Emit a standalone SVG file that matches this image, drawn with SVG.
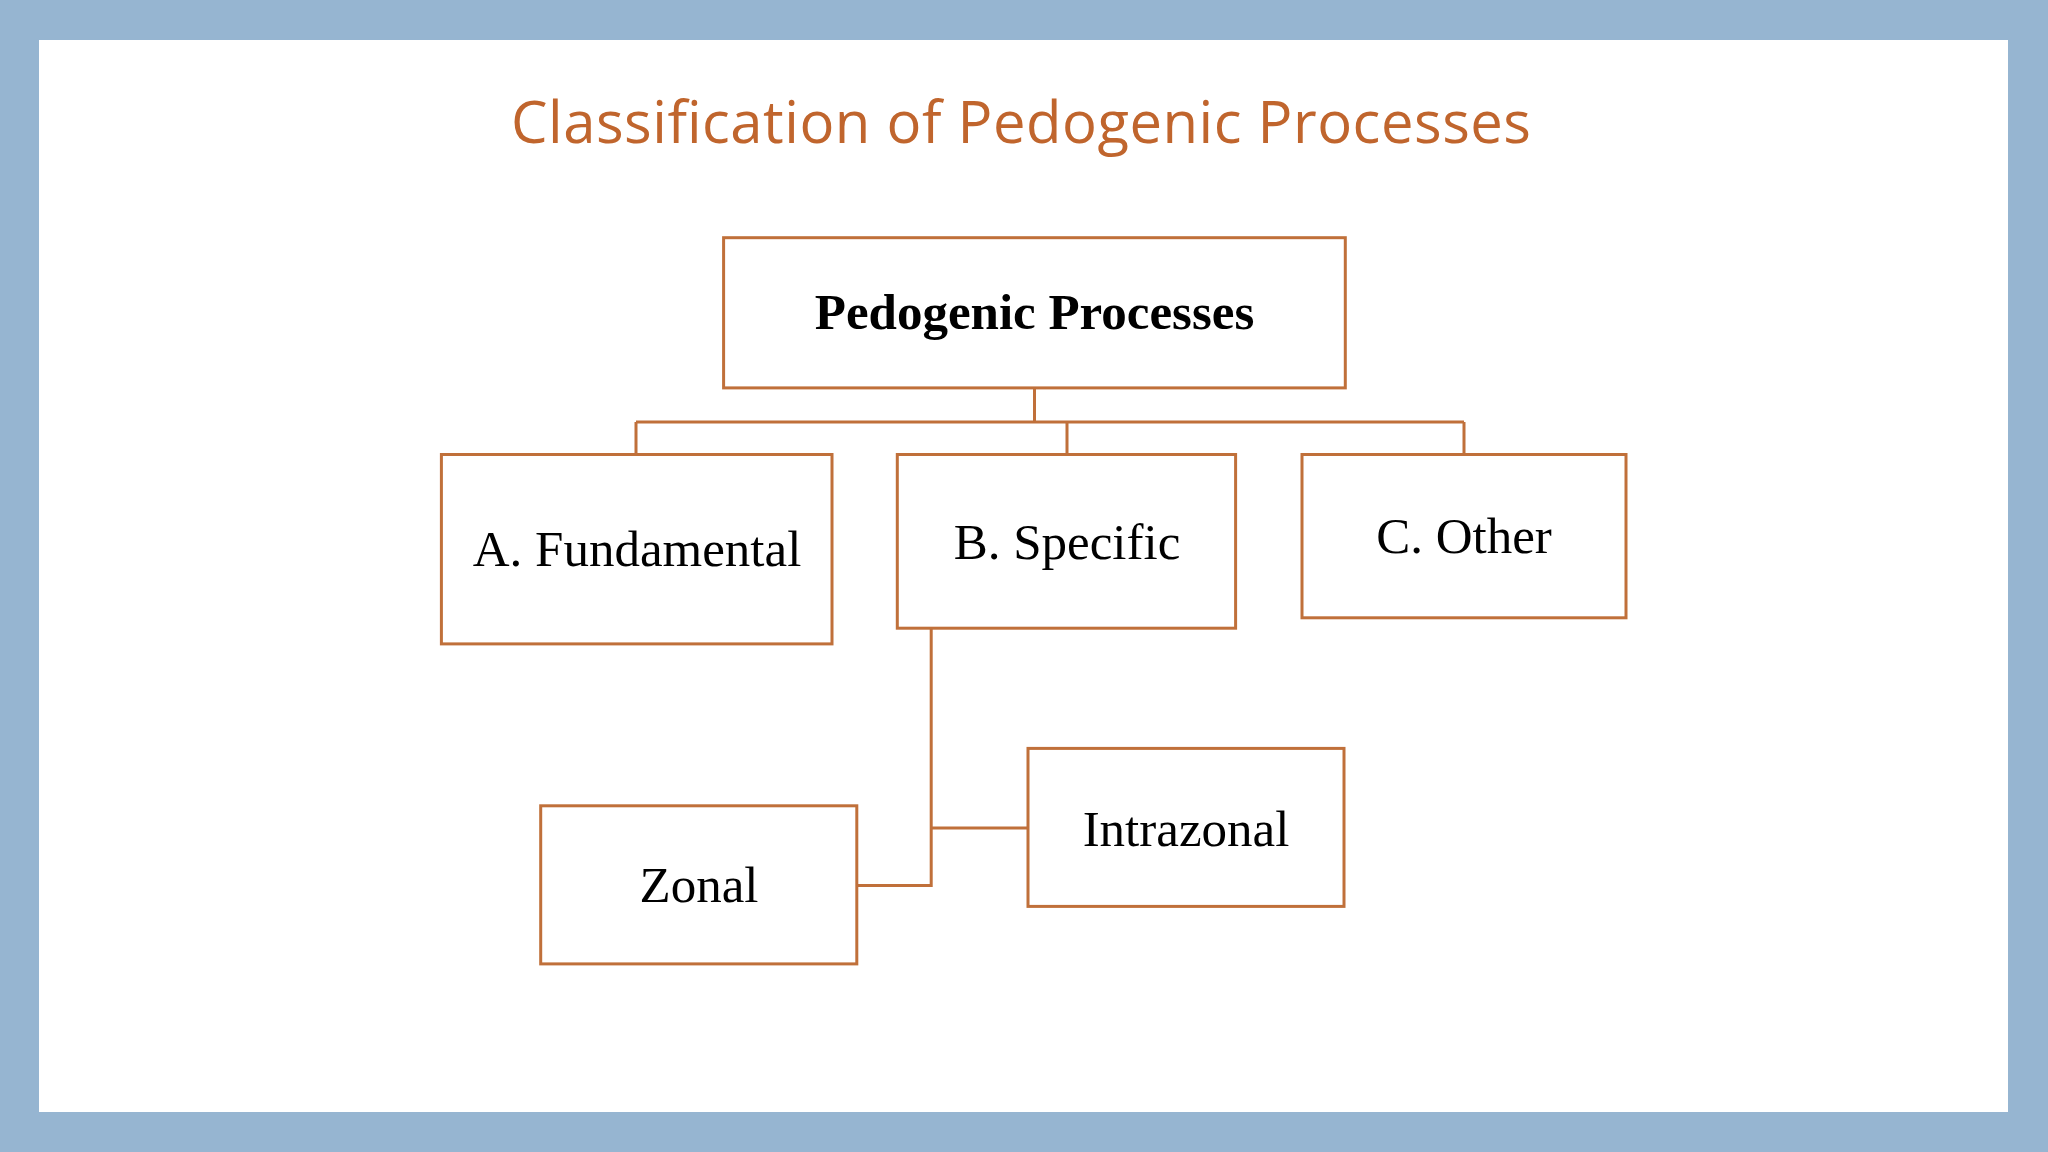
<svg xmlns="http://www.w3.org/2000/svg" width="2048" height="1152" viewBox="0 0 2048 1152">
<style>
.box{fill:#fff;stroke:#C0703A;stroke-width:3}
.lbl{font-family:"Liberation Serif",serif;font-size:51px;fill:#000;text-anchor:middle}
.con{fill:none;stroke:#C0703A;stroke-width:3}
</style>
<rect width="2048" height="1152" fill="#96B5D1"/>
<rect x="39" y="40" width="1969" height="1072" fill="#fff"/>
<text x="1021" y="143" font-family="'Open Sans',sans-serif" font-size="58" fill="#C0652D" text-anchor="middle" textLength="1020">Classification of Pedogenic Processes</text>
<g id="connectors">
<path class="con" d="M1034.5 388V422M636 422H1464M636 422V454.5M1067 422V454.5M1464 422V454.5"/>
<path class="con" d="M931.2 628.2V885.5H856.8M931.2 828H1028"/>
</g>
<g id="root"><rect class="box" x="723.6" y="237.7" width="621.7" height="150.2"/><text class="lbl" x="1034.5" y="329" font-weight="bold">Pedogenic Processes</text></g>
<g id="a"><rect class="box" x="441.4" y="454.5" width="390.6" height="189.4"/><text class="lbl" x="637" y="566">A. Fundamental</text></g>
<g id="b"><rect class="box" x="897.3" y="454.5" width="338.3" height="173.7"/><text class="lbl" x="1067" y="559">B. Specific</text></g>
<g id="c"><rect class="box" x="1302" y="454.5" width="324" height="163.3"/><text class="lbl" x="1464" y="553">C. Other</text></g>
<g id="zonal"><rect class="box" x="540.7" y="805.8" width="316.1" height="158.1"/><text class="lbl" x="699" y="902">Zonal</text></g>
<g id="intrazonal"><rect class="box" x="1028" y="748.4" width="316" height="158"/><text class="lbl" x="1186" y="846">Intrazonal</text></g>
</svg>
